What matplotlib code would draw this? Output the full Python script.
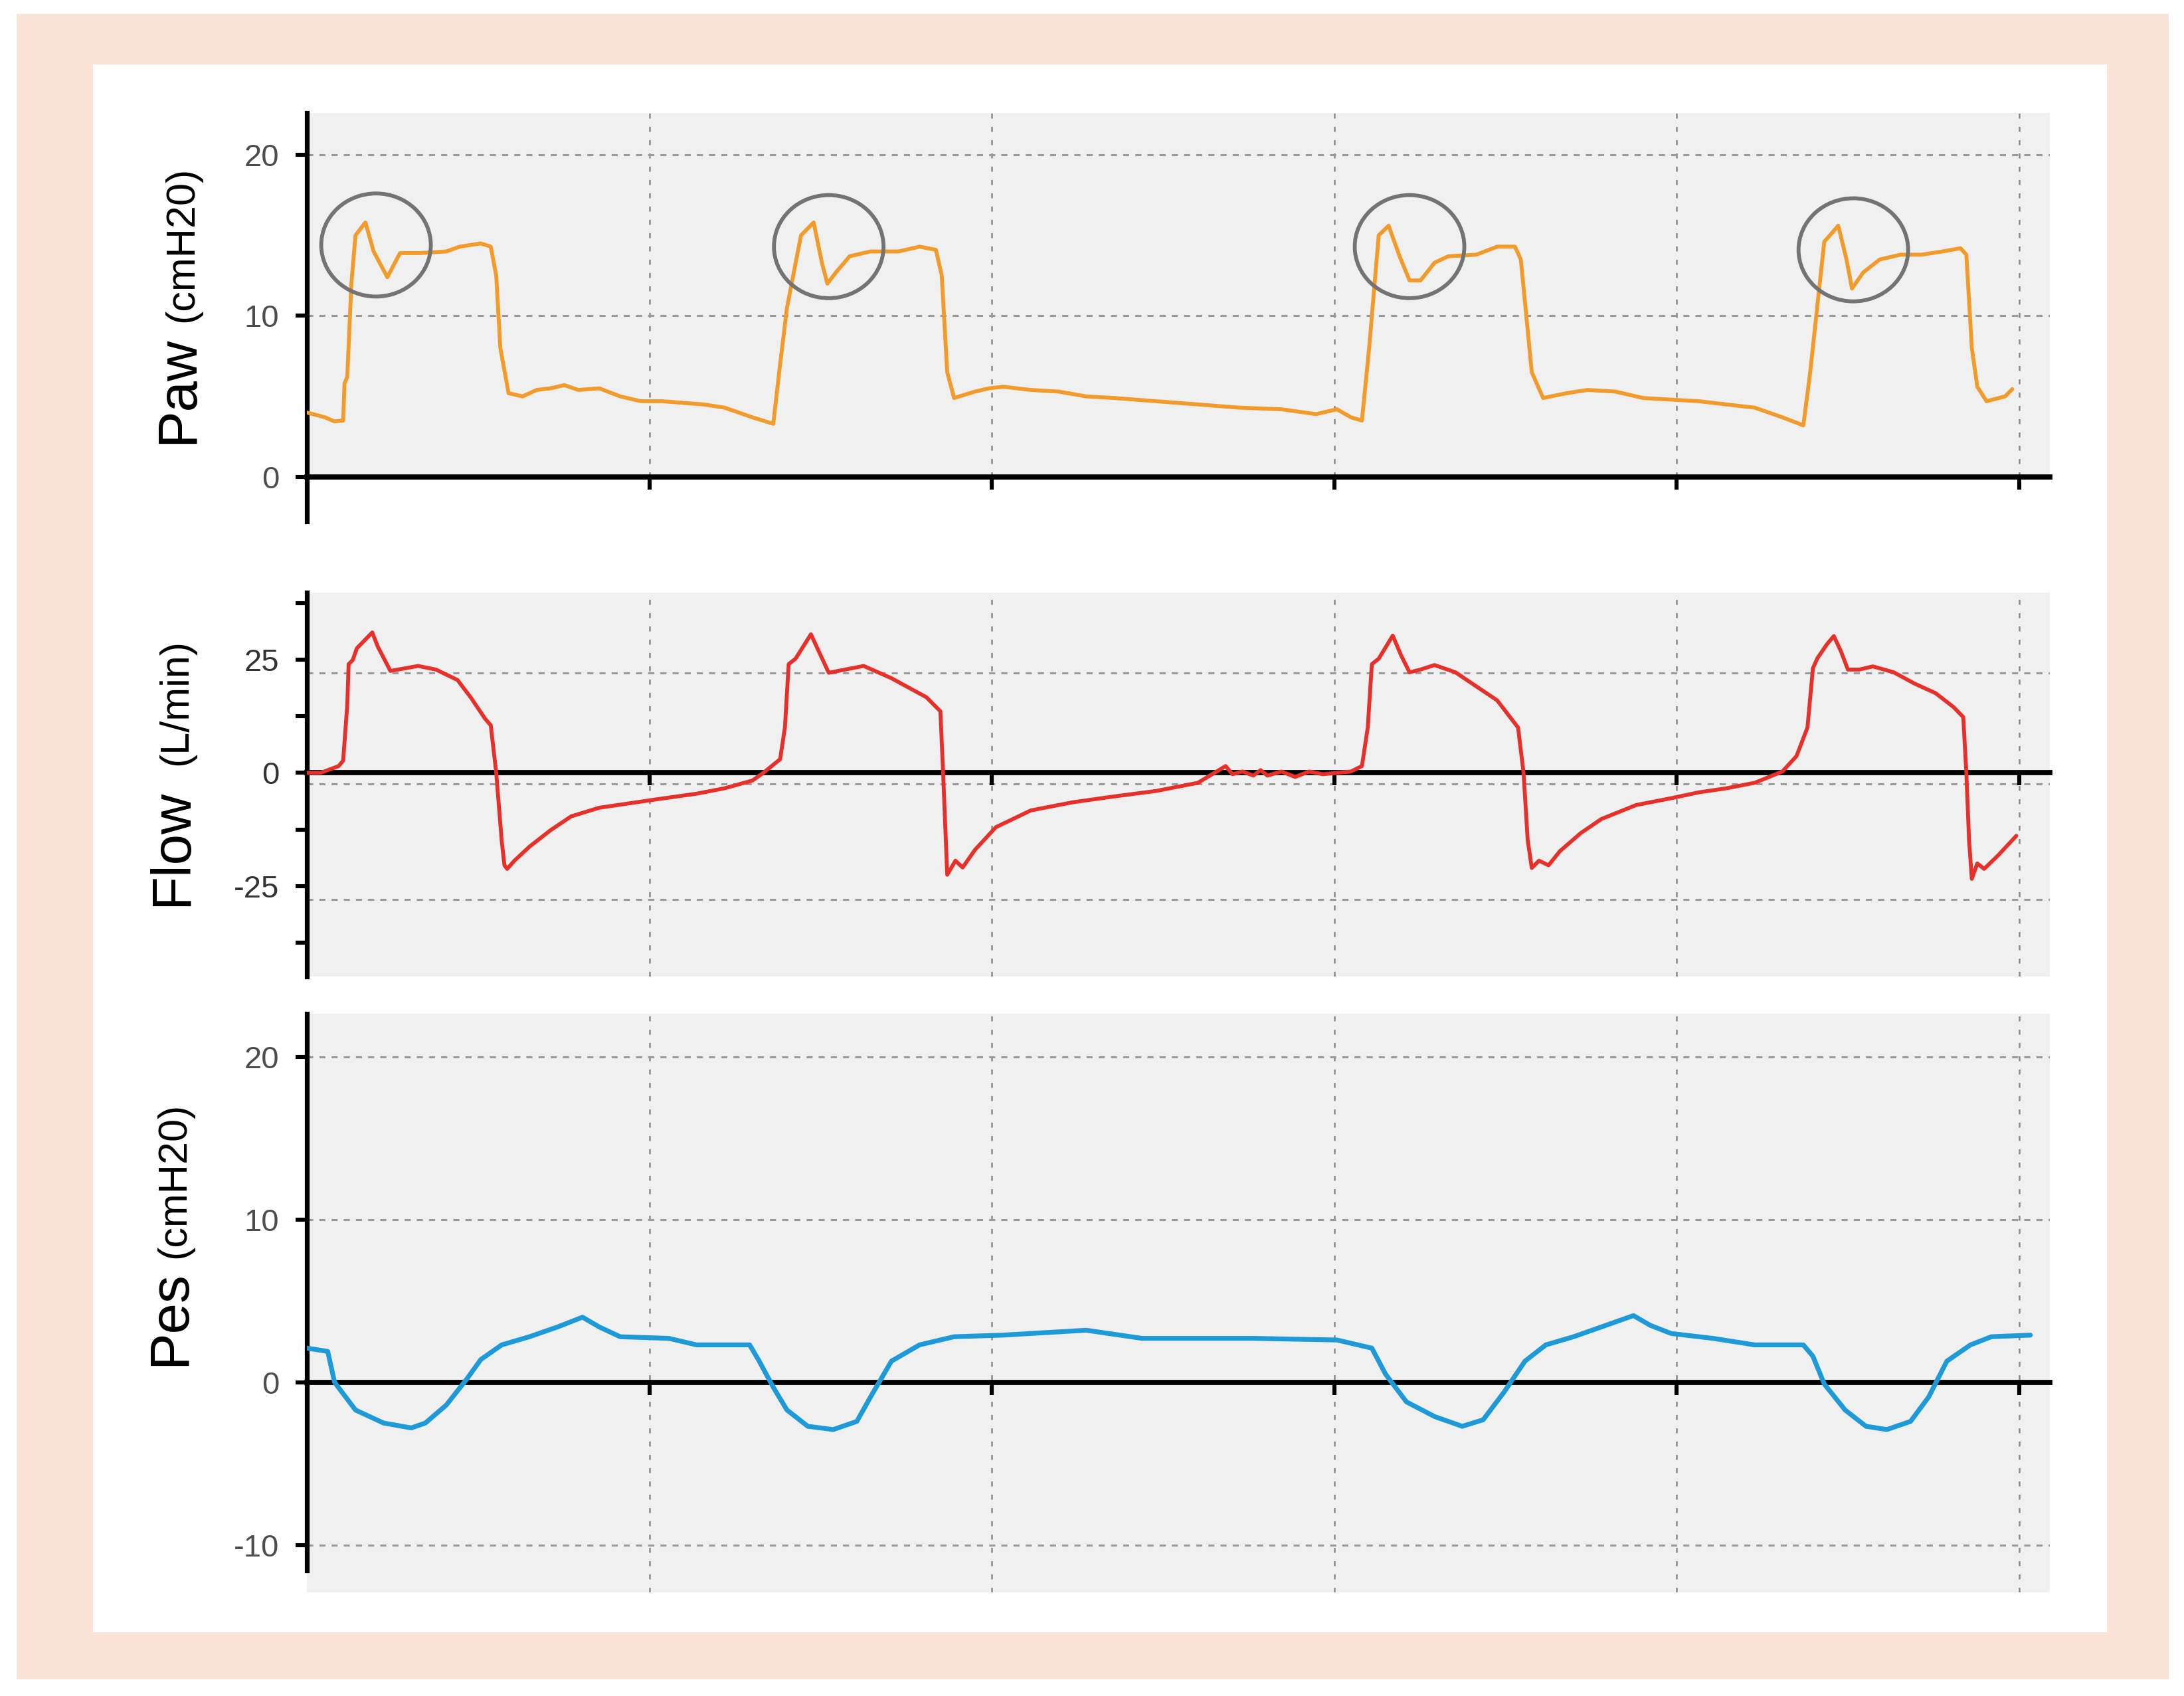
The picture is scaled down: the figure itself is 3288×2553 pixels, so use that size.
import numpy as np
import matplotlib.pyplot as plt
from matplotlib.patches import Rectangle, Ellipse

# ---- data (time in grid units) ----
paw_t = [0.000, 0.053, 0.080, 0.106, 0.110, 0.118, 0.130, 0.142, 0.171, 0.195, 0.235, 0.272,
         0.330, 0.407, 0.447, 0.508, 0.537, 0.553, 0.565, 0.589, 0.630, 0.671, 0.711, 0.752,
         0.793, 0.854, 0.915, 0.976, 1.037, 1.098, 1.159, 1.220, 1.301, 1.362,
         1.382, 1.402, 1.443, 1.480, 1.504, 1.520, 1.545, 1.585, 1.646, 1.728, 1.789, 1.837,
         1.854, 1.870, 1.890, 1.951, 1.992, 2.033, 2.114, 2.195, 2.276, 2.358, 2.480, 2.602,
         2.724, 2.846, 2.947, 3.008, 3.049, 3.081,
         3.102, 3.130, 3.159, 3.191, 3.220, 3.252, 3.293, 3.333, 3.415, 3.476, 3.528, 3.545,
         3.577, 3.610, 3.679, 3.740, 3.821, 3.902, 3.984, 4.065, 4.146, 4.228, 4.309, 4.370,
         4.390, 4.431, 4.472, 4.496, 4.512, 4.545, 4.593, 4.654, 4.715, 4.776, 4.829, 4.846,
         4.862, 4.878, 4.905, 4.959, 4.980]
paw_v = [4.0, 3.7, 3.45, 3.5, 5.8, 6.2, 12.0, 15.0, 15.8, 14.0, 12.4, 13.9,
         13.9, 14.0, 14.3, 14.5, 14.3, 12.5, 8.0, 5.2, 5.0, 5.4, 5.5, 5.7,
         5.4, 5.5, 5.0, 4.7, 4.7, 4.6, 4.5, 4.3, 3.7, 3.3,
         7.0, 10.5, 15.0, 15.8, 13.3, 12.0, 12.7, 13.7, 14.0, 14.0, 14.3, 14.1,
         12.5, 6.5, 4.9, 5.3, 5.5, 5.6, 5.4, 5.3, 5.0, 4.9, 4.7, 4.5,
         4.3, 4.2, 3.9, 4.2, 3.7, 3.5,
         8.0, 15.0, 15.6, 13.7, 12.2, 12.2, 13.3, 13.7, 13.8, 14.3, 14.3, 13.5,
         6.5, 4.9, 5.2, 5.4, 5.3, 4.9, 4.8, 4.7, 4.5, 4.3, 3.7, 3.2,
         6.5, 14.6, 15.6, 13.5, 11.7, 12.7, 13.5, 13.8, 13.8, 14.0, 14.2, 13.8,
         8.0, 5.6, 4.7, 5.0, 5.45]

flow_t = [0.000, 0.040, 0.093, 0.106, 0.118, 0.122, 0.134, 0.146, 0.191, 0.207, 0.244, 0.325,
          0.377, 0.440, 0.480, 0.520, 0.537, 0.553, 0.569, 0.577, 0.585, 0.606, 0.650, 0.711,
          0.772, 0.854, 0.935, 1.016, 1.138, 1.220, 1.301, 1.333,
          1.382, 1.396, 1.407, 1.427, 1.472, 1.500, 1.524, 1.626, 1.707, 1.809, 1.850, 1.858,
          1.870, 1.894, 1.915, 1.951, 2.012, 2.114, 2.236, 2.358, 2.480, 2.602, 2.683,
          2.703, 2.732, 2.764, 2.785, 2.805, 2.846, 2.886, 2.927, 2.967, 3.008, 3.049, 3.081,
          3.098, 3.110, 3.130, 3.171, 3.195, 3.220, 3.252, 3.293, 3.354, 3.415, 3.476, 3.537,
          3.553, 3.565, 3.577, 3.598, 3.626, 3.659, 3.720, 3.780, 3.882, 3.984, 4.065, 4.146,
          4.228, 4.309, 4.350, 4.382, 4.398, 4.411, 4.439, 4.459, 4.480, 4.500, 4.533, 4.573,
          4.634, 4.695, 4.756, 4.809, 4.837, 4.846, 4.854, 4.862, 4.878, 4.898, 4.939, 4.992]
flow_v = [0.0, 0.0, 1.5, 2.7, 15.0, 24.0, 24.9, 27.5, 31.0, 27.9, 22.5, 23.6,
          22.8, 20.5, 16.5, 12.0, 10.5, 0.0, -15.0, -20.4, -21.2, -19.4, -16.3, -12.7,
          -9.6, -7.7, -6.8, -5.9, -4.6, -3.4, -1.7, 0.0,
          3.0, 10.0, 24.0, 25.2, 30.6, 26.0, 22.1, 23.6, 20.9, 16.7, 13.6, 0.0,
          -22.5, -19.4, -20.9, -17.0, -12.0, -8.3, -6.5, -5.2, -4.0, -2.2, 1.5,
          -0.3, 0.3, -0.6, 0.6, -0.6, 0.3, -0.9, 0.3, -0.3, 0.0, 0.3, 1.5,
          10.0, 24.0, 25.2, 30.3, 26.0, 22.2, 22.8, 23.8, 22.2, 19.1, 16.0, 10.0,
          0.0, -14.8, -21.0, -19.4, -20.4, -17.3, -13.3, -10.2, -7.1, -5.6, -4.3, -3.4,
          -2.2, 0.3, 3.7, 10.0, 23.1, 25.3, 28.4, 30.2, 26.8, 22.8, 22.8, 23.5,
          22.2, 19.7, 17.6, 14.5, 12.3, 0.0, -15.0, -23.4, -20.0, -21.2, -18.2, -13.9]

pes_t = [0.000, 0.061, 0.081, 0.142, 0.224, 0.305, 0.346, 0.407, 0.467, 0.508, 0.569, 0.650,
         0.732, 0.805, 0.854, 0.915, 1.057, 1.138, 1.293, 1.321, 1.362, 1.402, 1.463, 1.537,
         1.606, 1.646, 1.707, 1.789, 1.890, 2.033, 2.276, 2.439, 2.764, 3.008, 3.110, 3.150,
         3.211, 3.293, 3.374, 3.435, 3.496, 3.557, 3.618, 3.699, 3.780, 3.874, 3.923, 3.984,
         4.106, 4.228, 4.370, 4.398, 4.431, 4.492, 4.553, 4.614, 4.683, 4.736, 4.789, 4.858,
         4.919, 5.033]
pes_v = [2.1, 1.9, 0.0, -1.7, -2.5, -2.8, -2.5, -1.4, 0.2, 1.4, 2.3, 2.8,
         3.4, 4.0, 3.4, 2.8, 2.7, 2.3, 2.3, 1.3, -0.3, -1.7, -2.7, -2.9,
         -2.4, -0.9, 1.3, 2.3, 2.8, 2.9, 3.2, 2.7, 2.7, 2.6, 2.1, 0.5,
         -1.2, -2.1, -2.7, -2.3, -0.6, 1.3, 2.3, 2.8, 3.4, 4.1, 3.5, 3.0,
         2.7, 2.3, 2.3, 1.6, -0.1, -1.7, -2.7, -2.9, -2.4, -0.9, 1.3, 2.3,
         2.8, 2.9]

# circled overshoots on the Paw trace
circle_t = [0.202, 1.524, 3.220, 4.516]
circle_v = [14.4, 14.3, 14.3, 14.1]

grid_t = [1, 2, 3, 4, 5]

PEACH = '#fae3d6'
PANEL_BG = '#f0f0f0'

plt.rcParams['font.family'] = ['Liberation Sans', 'DejaVu Sans']

fig = plt.figure(figsize=(16.44, 12.765), dpi=200)
fig.patches.append(Rectangle((0.0076, 0.0098), 0.9854, 0.9820, transform=fig.transFigure,
                             facecolor=PEACH, edgecolor='none', zorder=-10))
fig.patches.append(Rectangle((0.0426, 0.0376), 0.9221, 0.9244, transform=fig.transFigure,
                             facecolor='white', edgecolor='none', zorder=-9))

XMAX = 5.09


def setup(ax, ylim, yticks, ylabels, hgrid, bg_from=None, spine_lo=None, labelcolor='#4d4d4d'):
    ax.set_xlim(0, XMAX)
    ax.set_ylim(*ylim)
    if bg_from is None:
        ax.set_facecolor(PANEL_BG)
        vlo = ylim[0]
    else:
        ax.set_facecolor('none')
        ax.axhspan(bg_from, ylim[1], color=PANEL_BG, lw=0, zorder=0)
        vlo = bg_from
    for s in ['top', 'right']:
        ax.spines[s].set_visible(False)
    ax.spines['left'].set_linewidth(2.6)
    ax.spines['bottom'].set_linewidth(2.8)
    ax.spines['bottom'].set_position(('data', 0))
    if spine_lo is not None:
        ax.spines['left'].set_bounds(spine_lo, ylim[1])
    ax.set_yticks(yticks)
    ax.set_yticklabels(ylabels)
    ax.set_xticks(grid_t)
    ax.tick_params(axis='y', direction='out', length=6, width=2.2, pad=9,
                   labelsize=17, labelcolor=labelcolor)
    ax.tick_params(axis='x', direction='out', length=7, width=2.2, labelbottom=False)
    ax.vlines(grid_t, vlo, ylim[1], colors='#8a8a8a', linestyles=(0, (3, 5)), lw=0.9, zorder=1)
    for g in hgrid:
        ax.axhline(g, color='#9a9a9a', ls=(0, (3, 3)), lw=1.1, zorder=1)


# Paw
ax1 = fig.add_axes([0.1405, 0.6925, 0.7981, 0.2409])
setup(ax1, (-2.77, 22.6), [0, 10, 20], ['0', '10', '20'], [10, 20], bg_from=0)
ax1.plot(paw_t, paw_v, color='#f29b2a', lw=2.1, zorder=3,
         solid_joinstyle='round', solid_capstyle='round')
for ct, cv in zip(circle_t, circle_v):
    ax1.add_patch(Ellipse((ct, cv), width=0.32, height=6.4, fill=False,
                          edgecolor='#737373', lw=2.1, zorder=4))

# Flow
ax2 = fig.add_axes([0.1405, 0.4244, 0.7981, 0.2262])
setup(ax2, (-44.9, 39.8), [-37.5, -25, -12.5, 0, 12.5, 25, 37.5],
      ['', '-25', '', '0', '', '25', ''], [22.0, -2.4, -28.0], labelcolor='#333333')
ax2.plot(flow_t, flow_v, color='#e8302a', lw=2.1, zorder=3,
         solid_joinstyle='round', solid_capstyle='round')

# Pes
ax3 = fig.add_axes([0.1405, 0.0611, 0.7981, 0.3413])
setup(ax3, (-12.9, 22.65), [-10, 0, 10, 20], ['-10', '0', '10', '20'], [20, 10, -10],
      spine_lo=-11.56)
ax3.plot(pes_t, pes_v, color='#1e9ad8', lw=2.6, zorder=3,
         solid_joinstyle='round', solid_capstyle='round')

# y labels: big name + smaller unit
lab_kw = dict(rotation=90, rotation_mode='anchor', ha='left', va='baseline', color='black')
fig.text(0.0882, 0.7384, 'Paw', fontsize=30, **lab_kw)
fig.text(0.0882, 0.8100, '(cmH20)', fontsize=22, **lab_kw)
fig.text(0.0855, 0.4657, 'Flow', fontsize=30, **lab_kw)
fig.text(0.0855, 0.5488, '(L/min)', fontsize=22, **lab_kw)
fig.text(0.0846, 0.1947, 'Pes', fontsize=30, **lab_kw)
fig.text(0.0846, 0.2581, '(cmH20)', fontsize=22, **lab_kw)

fig.savefig('out.png', dpi=200, facecolor='white')
